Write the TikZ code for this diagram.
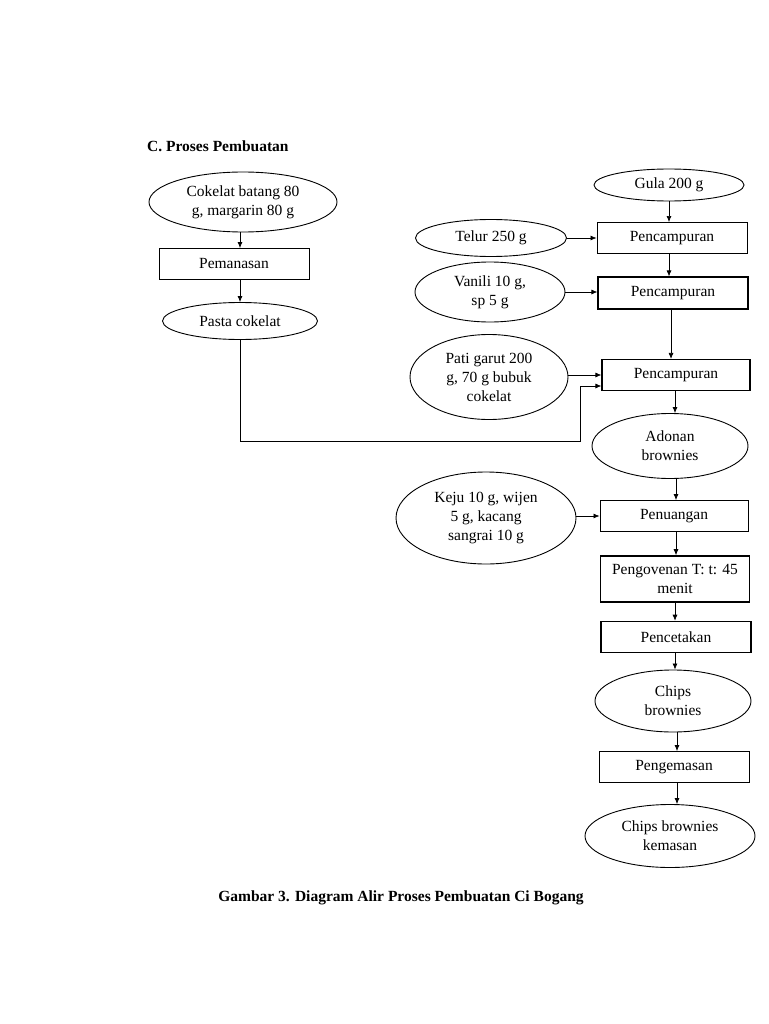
\documentclass[tikz,border=0pt]{standalone}
\usepackage{fontspec}
\setmainfont{Liberation Serif}
\usetikzlibrary{shapes.geometric,arrows.meta}
\begin{document}
\begin{tikzpicture}[x=1pt,y=-1pt,
 every node/.style={font=\fontsize{15.5}{19}\selectfont, align=center, inner sep=0pt},
 oval/.style={draw, ellipse, line width=0.9pt},
 box/.style={draw, rectangle, line width=0.9pt, minimum width=150pt, minimum height=31pt},
 thickbox/.style={box, line width=1.6pt},
 arr/.style={-{Latex[length=6pt,width=5pt]}, line width=0.7pt}]
\useasboundingbox (0,0) rectangle (768,1024);
% titles
\node[anchor=west, font=\fontsize{15.5}{19}\selectfont\bfseries] (title) at (147,146) {C. Proses Pembuatan};
\node[font=\fontsize{15.5}{19}\selectfont\bfseries] (caption) at (401,898) {Gambar 3. Diagram Alir Proses Pembuatan Ci Bogang};
% left branch
\node[oval, minimum width=188pt, minimum height=60pt] (cok) at (243,202) {Cokelat batang 80\\ g, margarin 80 g};
\node[box] (pem) at (234,264) {Pemanasan};
\node[oval, minimum width=155pt, minimum height=37pt] (pasta) at (240,321) {Pasta cokelat};
% right column
\node[oval, minimum width=150pt, minimum height=32pt] (gula) at (669,185) {Gula 200 g};
\node[box] (pc1) at (672,238) {Pencampuran};
\node[oval, minimum width=151pt, minimum height=37pt] (telur) at (491,238) {Telur 250 g};
\node[box, line width=1.2pt, minimum height=32pt] (pc2) at (673,293) {Pencampuran};
\node[oval, minimum width=150pt, minimum height=60pt] (van) at (490,292) {Vanili 10 g,\\ sp 5 g};
\node[box, line width=1.2pt, minimum width=148pt] (pc3) at (676,375) {Pencampuran};
\node[oval, minimum width=158pt, minimum height=85pt] (pati) at (489,377) {Pati garut 200\\ g, 70 g bubuk\\ cokelat};
\node[oval, minimum width=156pt, minimum height=65pt] (adon) at (670,446) {Adonan\\ brownies};
\node[box, minimum width=148pt] (tuang) at (674,516) {Penuangan};
\node[oval, minimum width=180pt, minimum height=92pt] (keju) at (486,518) {Keju 10 g, wijen\\ 5 g, kacang\\ sangrai 10 g};
\node[thickbox, minimum width=149pt, minimum height=46pt] (oven) at (675,579) {Pengovenan T: t: 45\\ menit};
\node[thickbox] (cetak) at (676,637) {Pencetakan};
\node[oval, minimum width=156pt, minimum height=62pt] (chips) at (673,701) {Chips\\ brownies};
\node[box] (kemas) at (674,767) {Pengemasan};
\node[oval, minimum width=170pt, minimum height=63pt] (final) at (670,836) {Chips brownies\\ kemasan};
% connectors
\draw[arr] (cok.south -| 240,0) -- (pem.north -| 240,0);
\draw[arr] (pem.south -| 240,0) -- (pasta.north);
\coordinate (turn) at (580,441);
\draw[arr] (pasta.south) |- (turn) |- ([yshift=-11pt]pc3.west);
\draw[arr] (gula.south) -- (gula.south |- pc1.north);
\draw[arr] (telur.east) -- (telur.east -| pc1.west);
\draw[arr] (pc1.south -| 669,0) -- (pc2.north -| 669,0);
\draw[arr] (van.east) -- (van.east -| pc2.west);
\draw[arr] (pc2.south -| 671,0) -- (pc3.north -| 671,0);
\draw[arr] (pati.east |- pc3.west) -- (pc3.west);
\draw[arr] (pc3.south -| 675,0) -- (adon.north -| 675,0);
\draw[arr] (adon.south -| 676,0) -- (tuang.north -| 676,0);
\draw[arr] (keju.east |- tuang.west) -- (tuang.west);
\draw[arr] (tuang.south -| 676,0) -- (oven.north -| 676,0);
\draw[arr] (oven.south -| 675,0) -- (cetak.north -| 675,0);
\draw[arr] (cetak.south -| 675,0) -- (chips.north -| 675,0);
\draw[arr] (chips.south -| 677,0) -- (kemas.north -| 677,0);
\draw[arr] (kemas.south -| 677,0) -- (final.north -| 677,0);
\end{tikzpicture}
\end{document}
